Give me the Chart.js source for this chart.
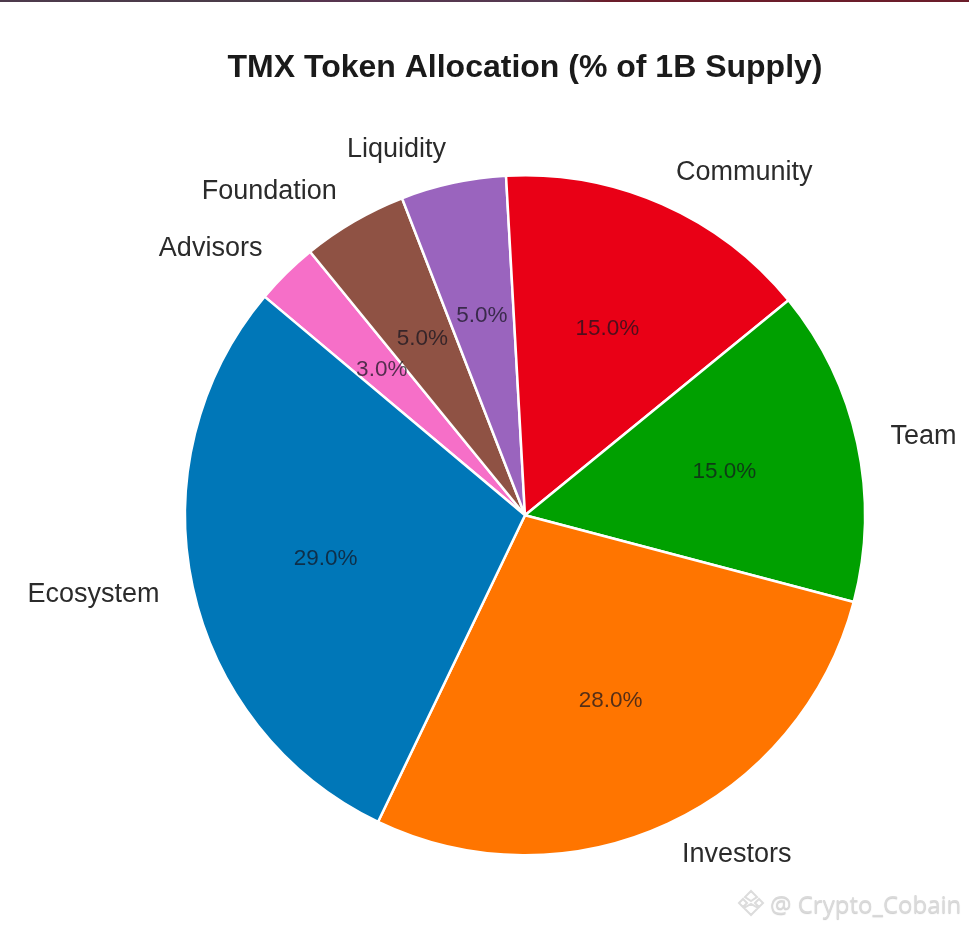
<!DOCTYPE html>
<html>
<head>
<meta charset="utf-8">
<title>TMX Token Allocation</title>
<script src="https://cdn.jsdelivr.net/npm/chart.js@4"></script>
<style>
  html, body { margin: 0; padding: 0; background: #fff; }
  #wrap { position: relative; width: 969px; height: 929px; overflow: hidden; }
  #topStrip { position: absolute; left: 0; top: 0; width: 969px; height: 2px; z-index: 2;
    background: linear-gradient(to right, #4d3a4c 0, #4a3c48 300px, #57344f 302px, #553a50 560px, #6b1d2a 606px, #6b1d2a 100%); }
  #tokenChart { position: absolute; left: 0; top: 0; }
  #mark { position: absolute; left: 736px; top: 888px; height: 30px; display: flex; align-items: center;
    font: 24px "Open Sans", sans-serif; color: #dadada; text-shadow: 0 1px 1px #ccc; white-space: nowrap; }
  #mark svg { margin-right: 4px; }
</style>
</head>
<body>
<div id="wrap">
  <div id="topStrip"></div>
  <canvas id="tokenChart" width="969" height="929"></canvas>
  <div id="mark">
    <svg width="30" height="30" viewBox="0 0 30 30" fill="none" stroke="#dcdcdc" stroke-width="2">
      <path d="M15 3 L21 9 L15 13 L9 9 Z M3 15 L7 11 L11 15 L7 19 Z M19 15 L23 11 L27 15 L23 19 Z M15 27 L8 20 L15 16 L22 20 Z"/>
    </svg>
    <span>@ Crypto_Cobain</span>
  </div>
</div>
<script>
// clockwise order, starting from the top left edge of Ecosystem
const labels = ["Advisors", "Foundation", "Liquidity", "Community", "Team", "Investors", "Ecosystem"];
const shares = [3, 5, 5, 15, 15, 28, 29];
const colors = ["#f66fc8", "#8f5244", "#9a64be", "#e90016", "#00a000", "#ff7500", "#0077b8"];

// labels outside the pie and percentages inside, like matplotlib autopct
const sliceLabels = {
  id: "sliceLabels",
  afterDatasetsDraw(chart) {
    const ctx = chart.ctx;
    const arcs = chart.getDatasetMeta(0).data;
    ctx.save();
    ctx.textBaseline = "middle";
    arcs.forEach((arc, i) => {
      const mid = (arc.startAngle + arc.endAngle) / 2;
      const cos = Math.cos(mid);
      const sin = Math.sin(mid);

      ctx.font = '27px "Liberation Sans", sans-serif';
      ctx.fillStyle = "#2b2b2b";
      ctx.textAlign = cos >= 0 ? "left" : "right";
      ctx.fillText(labels[i], arc.x + cos * arc.outerRadius * 1.1, arc.y + sin * arc.outerRadius * 1.1);

      ctx.font = '22.5px "Liberation Sans", sans-serif';
      ctx.fillStyle = "rgba(20, 20, 30, 0.72)";
      ctx.textAlign = "center";
      ctx.fillText(shares[i].toFixed(1) + "%", arc.x + cos * arc.outerRadius * 0.6, arc.y + sin * arc.outerRadius * 0.6);
    });
    ctx.restore();
  }
};

new Chart(document.getElementById("tokenChart").getContext("2d"), {
  type: "pie",
  data: {
    labels: labels,
    datasets: [{
      data: shares,
      backgroundColor: colors,
      borderColor: "#ffffff",
      borderWidth: 2.5,
      borderAlign: "center"
    }]
  },
  options: {
    responsive: false,
    animation: false,
    rotation: -50,
    radius: 340,
    layout: { padding: { left: 81, right: 0, top: 49, bottom: 0 } },
    plugins: {
      legend: { display: false },
      tooltip: { enabled: false },
      title: {
        display: true,
        text: "TMX Token Allocation (% of 1B Supply)",
        color: "#1a1a1a",
        font: { family: '"Liberation Sans", sans-serif', size: 32, weight: "bold" },
        padding: { top: 0, bottom: 14 }
      }
    }
  },
  plugins: [sliceLabels]
});
</script>
</body>
</html>
